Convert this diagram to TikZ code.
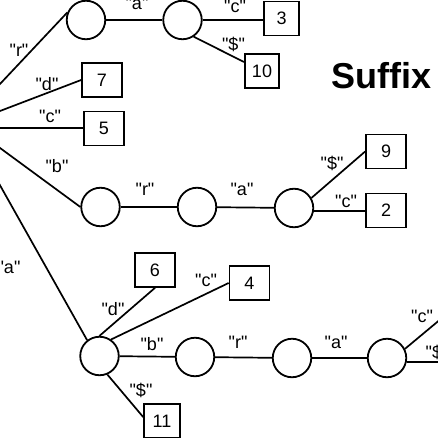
\documentclass[tikz,border=0pt]{standalone}
\usepackage{fontspec}
\setmainfont{Liberation Sans}[Ligatures=TeXOff]
\begin{document}
\begin{tikzpicture}[x=1pt,y=-1pt,
  every node/.style={font=\fontsize{18}{20}\selectfont},
  inode/.style={circle,draw,line width=1.8pt,minimum size=38.5pt,inner sep=0pt},
  leaf/.style={rectangle,draw,line width=1.7pt,minimum height=34pt,minimum width=40pt,inner sep=0pt},
  edge/.style={line width=1.7pt},
  lbl/.style={anchor=base,inner sep=0pt},
]
\useasboundingbox (0,0) rectangle (438,438);
\clip (0,0) rectangle (438,438);
\fill[white] (0,0) rectangle (438,438);

% internal nodes
\node[inode] (c1) at (86,20) {};
\node[inode] (c2) at (182.5,20) {};
\node[inode] (c3) at (100.5,207) {};
\node[inode] (c4) at (197,207) {};
\node[inode] (c5) at (294,208) {};
\node[inode] (c6) at (99.5,356) {};
\node[inode] (c7) at (195,357) {};
\node[inode] (c8) at (292,358) {};
\node[inode] (c9) at (387,358) {};

% leaves
\node[leaf,minimum width=35pt] (b3) at (281.5,18.5) {3};
\node[leaf,minimum width=34.5pt] (b10) at (262,71) {10};
\node[leaf] (b7) at (102,80) {7};
\node[leaf] (b5) at (104,128.5) {5};
\node[leaf] (b9) at (386,151.5) {9};
\node[leaf] (b2) at (386,210.5) {2};
\node[leaf] (b6) at (155,270) {6};
\node[leaf] (b4) at (249.5,283) {4};
\node[leaf,minimum width=36pt] (b11) at (162,421) {11};

% free ends (root lies outside the picture)
\coordinate (er) at (-5,89.3);
\coordinate (ed) at (-5,112.9);
\coordinate (ec) at (-5,128);
\coordinate (eb) at (-5,144.3);
\coordinate (ea) at (-5,176.4);
\coordinate (e9c) at (445,315.5);
\coordinate (e9s) at (445,362);

% edges
\draw[edge] (er) -- (c1.158);
\draw[edge] (ed) -- (b7.west);
\draw[edge] (ec) -- (ec -| b5.west);
\draw[edge] (eb) -- (c3.west);
\draw[edge] (ea) -- (c6.128);
\draw[edge] (c1) -- (c2);
\draw[edge] (c2.east) -- (c2.east -| b3.west);
\draw[edge] (c2.-56) -- ([yshift=9pt]b10.west);
\draw[edge] (c3) -- (c4);
\draw[edge] (c4) -- (c5);
\draw[edge] (c5.30) -- (b9.west);
\draw[edge] (c5.-8) -- (c5.-8 -| b2.west);
\draw[edge] (c6.north) -- (b6.south);
\draw[edge] (c6.55) -- (b4.west);
\draw[edge] (c6) -- (c7);
\draw[edge] (c6.-67) -- ([yshift=4pt]b11.west);
\draw[edge] (c7) -- (c8);
\draw[edge] (c8) -- (c9);
\draw[edge] (c9.27) -- (e9c);
\draw[edge] (c9.-12) -- (c9.-12 -| e9s);

% edge labels
\node[lbl] (l1) at (137,10) {"a"};
\node[lbl] (l2) at (235,13) {"c"};
\node[lbl] (l3) at (233.5,51) {"\$"};
\node[lbl] (l4) at (19,57) {"r"};
\node[lbl] (l5) at (47,91) {"d"};
\node[lbl] (l6) at (50,123) {"c"};
\node[lbl] (l7) at (57,173) {"b"};
\node[lbl] (l8) at (145,195) {"r"};
\node[lbl] (l9) at (242,195) {"a"};
\node[lbl] (l10) at (332,170) {"\$"};
\node[lbl] (l11) at (346,207) {"c"};
\node[lbl] (l12) at (9,273) {"a"};
\node[lbl] (l13) at (113,315) {"d"};
\node[lbl] (l14) at (206,286) {"c"};
\node[lbl] (l15) at (152,350) {"b"};
\node[lbl] (l16) at (141,396) {"\$"};
\node[lbl] (l17) at (238,348) {"r"};
\node[lbl] (l18) at (336,348) {"a"};
\node[lbl] (l19) at (422,322) {"c"};
\node[lbl] (l20) at (437,358) {"\$"};

% title
\node[anchor=base west,inner sep=0pt,font=\fontsize{36}{40}\selectfont\bfseries] (title) at (331.5,89) {Suffix};
\end{tikzpicture}
\end{document}
